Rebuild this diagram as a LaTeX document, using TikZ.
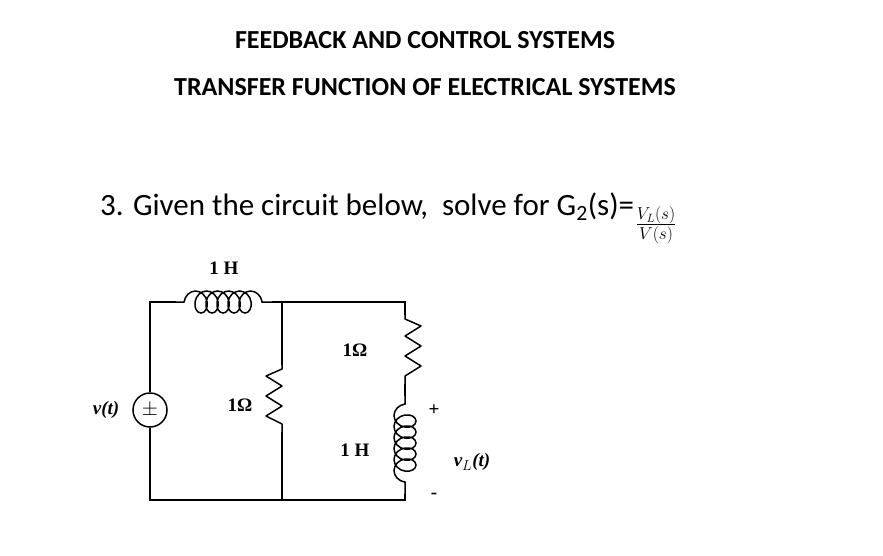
\documentclass[tikz,border=0pt]{standalone}
\usepackage{fontspec}
\setmainfont{Carlito}
\newfontfamily\partfont{Liberation Serif}
\usetikzlibrary{decorations.pathmorphing}
\begin{document}
\begin{tikzpicture}[x=1pt,y=-1pt,
    wire/.style={line width=1.5pt},
    coilpart/.style={wire,decorate,decoration={coil,aspect=0.8,segment length=11pt,amplitude=11pt,pre length=8pt,post length=8pt}},
    part/.style={font=\partfont\bfseries\fontsize{19}{19}\selectfont},
    title/.style={font=\bfseries\fontsize{26}{26}\selectfont}]
  \useasboundingbox (0,0) rectangle (883,555);
  % headings
  \node[title] (head1) at (425,40) {FEEDBACK AND CONTROL SYSTEMS};
  \node[title] (head2) at (425,87) {TRANSFER FUNCTION OF ELECTRICAL SYSTEMS};
  \node[anchor=base west,font=\fontsize{31}{31}\selectfont,inner xsep=0pt] (task) at (100,215)
    {3. Given the circuit below,\ \ solve for G\textsubscript{2}(s)=};
  \node[anchor=west,font=\fontsize{24}{24}\selectfont,inner sep=1pt] (frac) at ([yshift=-10pt]task.base east)
    {$\frac{V_L(s)}{V(s)}$};

  % corners and junctions
  \coordinate (tl) at (150,302);
  \coordinate (bl) at (150,500);
  \coordinate (tm) at (282,302);
  \coordinate (bm) at (282,500);
  \coordinate (tr) at (405,302);
  \coordinate (br) at (405,500);
  \coordinate (l1a) at (176,302);
  \coordinate (l1b) at (272,302);
  \coordinate (r1a) at (282,365);
  \coordinate (r1b) at (282,432);
  \coordinate (r2a) at (405,315);
  \coordinate (r2b) at (405,384);
  \coordinate (l2a) at (405,396);
  \coordinate (l2b) at (405,494);

  % source
  \node[draw,circle,line width=1.5pt,minimum size=34pt,inner sep=0pt,
        font=\fontsize{20}{20}\selectfont\bfseries] (src) at (150,410) {$\pm$};

  % wires
  \draw[wire] (src.north) -- (tl) -- (l1a);
  \draw[wire] (src.south) -- (bl) -- (br) -- (l2b);
  \draw[wire] (l1b) -- (tr) -- (r2a);
  \draw[wire] (tm) -- (r1a);
  \draw[wire] (r1b) -- (bm);
  \draw[wire] (r2b) -- (l2a);

  % inductors
  \draw[coilpart] (l1a) -- (l1b);
  \draw[coilpart,decoration={mirror}] (l2a) -- (l2b);

  % resistors
  \draw[wire,line join=round] (r1a) -- ++(0,4) -- ++(-16,7) -- ++(16,10) -- ++(-16,10)
    -- ++(16,10) -- ++(-16,10) -- ++(16,8) -- (r1b);
  \draw[wire,line join=round] (r2a) -- ++(0,4) -- ++(16,7) -- ++(-16,10) -- ++(16,10)
    -- ++(-16,10) -- ++(16,10) -- ++(-16,10) -- (r2b);

  % labels
  \node[part] (lab1) at (224,268) {1 H};
  \node[part] (lab2) at (240,405) {1Ω};
  \node[part] (lab3) at (355,350) {1Ω};
  \node[part] (lab4) at (355,450) {1 H};
  \node[part] (vin) at (106,410) {\itshape v(t)};
  \node[part] (plus) at (434,410) {+};
  \node[part] (vl) at (472,462) {\itshape v$_L$(t)};
  \node[part] (minus) at (434,496) {-};
\end{tikzpicture}
\end{document}
